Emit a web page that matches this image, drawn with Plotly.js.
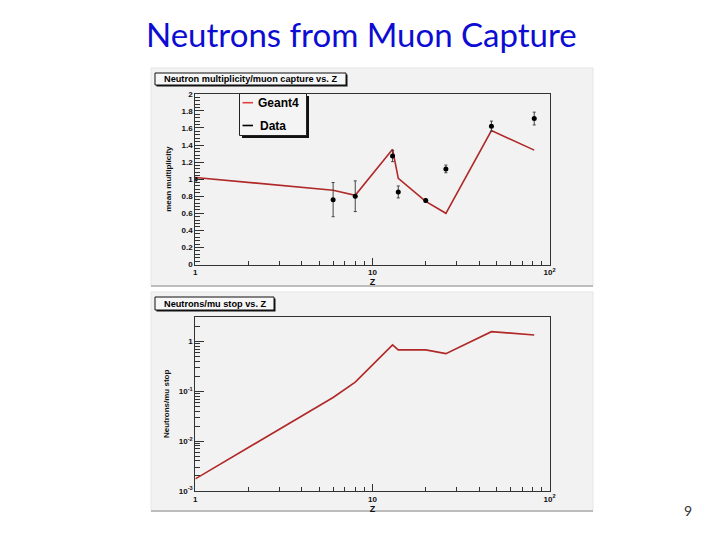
<!DOCTYPE html>
<html><head><meta charset="utf-8">
<script src="https://cdn.plot.ly/plotly-3.0.1.min.js"></script>
<style>html,body{margin:0;padding:0;background:#fff}#chart{width:720px;height:540px}</style>
</head><body><div id="chart"></div>
<script>
// ---- data ----
const zGeant4 = [1, 6, 8, 13, 14, 20, 26, 47, 82];
const geant4Multiplicity = [1.02, 0.87, 0.81, 1.35, 1.01, 0.74, 0.60, 1.57, 1.34];
const geant4NeutronsPerStop = [0.00175, 0.075, 0.153, 0.85, 0.676, 0.676, 0.57, 1.57, 1.35];
const zData = [1, 6, 8, 13, 14, 20, 26, 47, 82];
const dataMultiplicity = [1.00, 0.76, 0.80, 1.27, 0.85, 0.75, 1.12, 1.62, 1.71];
const dataError = [0.0, 0.20, 0.18, 0.065, 0.07, 0.02, 0.045, 0.06, 0.075];
const zTickVals = [1, 10, 100];
const zTickText = ['1', '10', '10<sup>2</sup>'];
const stopTickVals = [0.001, 0.01, 0.1, 1];
const stopTickText = ['10<sup>-3</sup>', '10<sup>-2</sup>', '10<sup>-1</sup>', '1'];

// ---- helpers for page-pixel placement of decorations ----
const W = 720, H = 540;
const px = x => x / W;
const py = y => 1 - y / H;
function logMinor(decades) {
  const v = [];
  decades.forEach(d => { for (let k = 2; k <= 9; k++) v.push(k * d); });
  return v;
}
const FONT = 'Liberation Sans, Arial, sans-serif';
const tickFont = {family: FONT, size: 8, color: '#111', weight: 'bold'};
const axTitleFont = {family: FONT, size: 8, color: '#111', weight: 'bold'};
const G4RED = '#b02828';

const traces = [
  {x: zGeant4, y: geant4Multiplicity, mode: 'lines', name: 'Geant4',
   line: {color: G4RED, width: 1.6}, xaxis: 'x', yaxis: 'y', showlegend: false},
  {x: zData, y: dataMultiplicity, mode: 'markers', name: 'Data',
   marker: {color: '#000', size: 5},
   error_y: {type: 'data', array: dataError, visible: true, color: '#444', thickness: 1, width: 1.5},
   xaxis: 'x', yaxis: 'y', showlegend: false},
  {x: zGeant4, y: geant4NeutronsPerStop, mode: 'lines', name: 'Geant4',
   line: {color: G4RED, width: 1.6}, xaxis: 'x2', yaxis: 'y2', showlegend: false}
];

const xCommon = {
  type: 'log', range: [0, 2], tickmode: 'array', tickvals: zTickVals, ticktext: zTickText,
  ticks: 'inside', ticklen: 7, tickwidth: 1, tickcolor: '#333',
  minor: {tickmode: 'array', tickvals: logMinor([1, 10]), ticks: 'inside', ticklen: 4, tickwidth: 1, tickcolor: '#333'},
  showline: true, mirror: true, linecolor: '#333', linewidth: 1,
  showgrid: false, zeroline: false, tickfont: tickFont, automargin: false,
  title: {text: 'Z', font: {family: FONT, size: 9, color: '#111', weight: 'bold'}, standoff: 0}
};

const layout = {
  width: W, height: H,
  margin: {l: 0, r: 0, t: 0, b: 0},
  paper_bgcolor: '#ffffff', plot_bgcolor: 'rgba(0,0,0,0)',
  showlegend: false,
  xaxis: Object.assign({}, xCommon, {domain: [px(195.3), px(549.5)], anchor: 'y'}),
  yaxis: {
    domain: [py(264.5), py(93.8)], anchor: 'x', range: [0, 2], dtick: 0.2, tick0: 0,
    ticks: 'inside', ticklen: 9, tickwidth: 1, tickcolor: '#333',
    minor: {dtick: 0.04, ticks: 'inside', ticklen: 5, tickwidth: 1, tickcolor: '#333'},
    showline: true, mirror: true, linecolor: '#333', linewidth: 1,
    showgrid: false, zeroline: false, tickfont: tickFont, automargin: false,
    title: {text: 'mean multiplicity', font: axTitleFont, standoff: 8}
  },
  xaxis2: Object.assign({}, xCommon, {domain: [px(195.3), px(549.5)], anchor: 'y2'}),
  yaxis2: {
    domain: [py(491), py(316.7)], anchor: 'x2', type: 'log', range: [-3, 0.496],
    tickmode: 'array', tickvals: stopTickVals, ticktext: stopTickText,
    ticks: 'inside', ticklen: 9, tickwidth: 1, tickcolor: '#333',
    minor: {tickmode: 'array', tickvals: logMinor([0.001, 0.01, 0.1, 1]), ticks: 'inside', ticklen: 5, tickwidth: 1, tickcolor: '#333'},
    showline: true, mirror: true, linecolor: '#333', linewidth: 1,
    showgrid: false, zeroline: false, tickfont: tickFont, automargin: false,
    title: {text: 'Neutrons/mu stop', font: axTitleFont, standoff: 8}
  },
  shapes: [
    // gray canvas panels
    {type: 'rect', xref: 'paper', yref: 'paper', x0: px(151), x1: px(593), y0: py(286), y1: py(68),
     fillcolor: '#f2f2f2', line: {width: 1, color: '#e6e6e6'}, layer: 'below'},
    {type: 'line', xref: 'paper', yref: 'paper', x0: px(151), x1: px(593), y0: py(286), y1: py(286),
     line: {width: 2, color: '#bdbdbd'}, layer: 'below'},
    {type: 'rect', xref: 'paper', yref: 'paper', x0: px(151), x1: px(593), y0: py(511), y1: py(292),
     fillcolor: '#f2f2f2', line: {width: 1, color: '#e6e6e6'}, layer: 'below'},
    {type: 'line', xref: 'paper', yref: 'paper', x0: px(151), x1: px(593), y0: py(511), y1: py(511),
     line: {width: 2, color: '#bdbdbd'}, layer: 'below'},
    // title boxes (shadow + box)
    {type: 'rect', xref: 'paper', yref: 'paper', x0: px(156.5), x1: px(347.5), y0: py(86.5), y1: py(74.5),
     fillcolor: '#111', line: {width: 0}},
    {type: 'rect', xref: 'paper', yref: 'paper', x0: px(155), x1: px(346), y0: py(85), y1: py(73),
     fillcolor: '#f7f7f7', line: {width: 1, color: '#111'}},
    {type: 'rect', xref: 'paper', yref: 'paper', x0: px(156.5), x1: px(275.5), y0: py(311.5), y1: py(298.5),
     fillcolor: '#111', line: {width: 0}},
    {type: 'rect', xref: 'paper', yref: 'paper', x0: px(155), x1: px(274), y0: py(310), y1: py(297),
     fillcolor: '#f7f7f7', line: {width: 1, color: '#111'}},
    // legend box (shadow + box)
    {type: 'rect', xref: 'paper', yref: 'paper', x0: px(242), x1: px(309), y0: py(138), y1: py(96),
     fillcolor: '#111', line: {width: 0}},
    {type: 'rect', xref: 'paper', yref: 'paper', x0: px(239.5), x1: px(306.5), y0: py(135.5), y1: py(93.5),
     fillcolor: '#f4f4f4', line: {width: 1, color: '#222'}},
    {type: 'line', xref: 'paper', yref: 'paper', x0: px(242.5), x1: px(253), y0: py(102.7), y1: py(102.7),
     line: {width: 1.6, color: '#e04040'}},
    {type: 'line', xref: 'paper', yref: 'paper', x0: px(242.5), x1: px(253), y0: py(125.5), y1: py(125.5),
     line: {width: 1.6, color: '#000'}}
  ],
  annotations: [
    {text: 'Neutrons from Muon Capture', xref: 'paper', yref: 'paper', x: px(361), y: py(34),
     xanchor: 'center', yanchor: 'middle', showarrow: false,
     font: {family: 'Lato, Open Sans, sans-serif', size: 33, color: '#0c0cd2'}},
    {text: 'Neutron multiplicity/muon capture vs. Z', xref: 'paper', yref: 'paper', x: px(250.5), y: py(79),
     xanchor: 'center', yanchor: 'middle', showarrow: false,
     font: {family: FONT, size: 9.2, color: '#000', weight: 'bold'}},
    {text: 'Neutrons/mu stop vs. Z', xref: 'paper', yref: 'paper', x: px(214.5), y: py(303.5),
     xanchor: 'center', yanchor: 'middle', showarrow: false,
     font: {family: FONT, size: 9.2, color: '#000', weight: 'bold'}},
    {text: 'Geant4', xref: 'paper', yref: 'paper', x: px(256), y: py(102.7),
     xanchor: 'left', yanchor: 'middle', showarrow: false,
     font: {family: FONT, size: 12, color: '#000', weight: 'bold'}},
    {text: 'Data', xref: 'paper', yref: 'paper', x: px(258), y: py(125.5),
     xanchor: 'left', yanchor: 'middle', showarrow: false,
     font: {family: FONT, size: 12, color: '#000', weight: 'bold'}},
    {text: '9', xref: 'paper', yref: 'paper', x: px(688), y: py(510),
     xanchor: 'center', yanchor: 'middle', showarrow: false,
     font: {family: 'Lato, Open Sans, sans-serif', size: 14, color: '#333'}}
  ]
};

Plotly.newPlot('chart', traces, layout, {staticPlot: true, displayModeBar: false});
</script>
</body></html>
